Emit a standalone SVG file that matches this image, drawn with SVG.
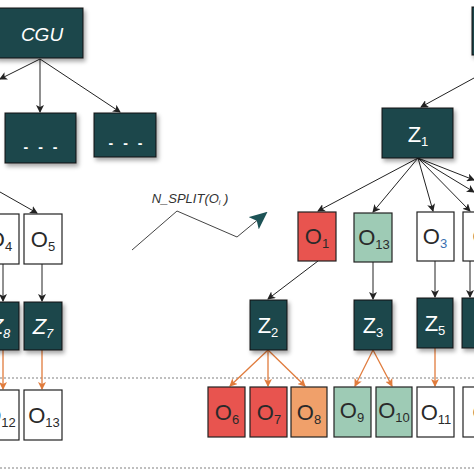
<svg xmlns="http://www.w3.org/2000/svg" width="474" height="474" viewBox="0 0 474 474">
<defs>
<filter id="sh" x="-30%" y="-30%" width="160%" height="160%"><feDropShadow dx="2" dy="3" stdDeviation="2" flood-color="#000" flood-opacity="0.35"/></filter>
<marker id="ab" markerWidth="8" markerHeight="8" refX="7" refY="4" orient="auto" markerUnits="userSpaceOnUse"><path d="M0,0 L8,4 L0,8 L2,4 z" fill="#222"/></marker>
<marker id="ao" markerWidth="8" markerHeight="8" refX="7" refY="4" orient="auto" markerUnits="userSpaceOnUse"><path d="M0,0 L8,4 L0,8 L2,4 z" fill="#e07b3c"/></marker>
<marker id="at" markerWidth="18" markerHeight="16" refX="16" refY="8" orient="auto" markerUnits="userSpaceOnUse"><path d="M0,0 L18,8 L0,16 L4,8 z" fill="#1d5356"/></marker>
</defs>
<style>
.dk{fill:#1c474b;stroke:#111;stroke-width:1;filter:url(#sh)}
.wo{fill:#fff;stroke:#222;stroke-width:1.2}
.rd{fill:#e8544f;stroke:#222;stroke-width:1.2}
.or{fill:#f0a06a;stroke:#222;stroke-width:1.2}
.gr{fill:#9ecbb5;stroke:#222;stroke-width:1.2}
.ot{font-family:"Liberation Sans",Arial,sans-serif;font-size:22px;fill:#2a2a2a;text-anchor:middle}
.zt{font-family:"Liberation Sans",Arial,sans-serif;font-size:22px;fill:#fff;text-anchor:middle}
.sb{font-size:13px}
.dd{font-family:"Liberation Sans",Arial,sans-serif;font-size:14px;font-weight:bold;fill:#fff;text-anchor:middle;letter-spacing:3px}
.ln{stroke:#222;stroke-width:1;fill:none;marker-end:url(#ab)}
.lo{stroke:#e07b3c;stroke-width:1.3;fill:none;marker-end:url(#ao)}
.dt{stroke:#aaa;stroke-width:1.5;stroke-dasharray:2 2;fill:none}
</style>
<g id="separators">
<line class="dt" x1="0" y1="378" x2="474" y2="378"/>
<line class="dt" x1="0" y1="468" x2="474" y2="468"/>
</g>
<g id="connectors">
<line class="ln" x1="40" y1="59" x2="0" y2="79"/>
<line class="ln" x1="40" y1="59" x2="40" y2="112"/>
<line class="ln" x1="40" y1="59" x2="120" y2="112"/>
<line class="ln" x1="0" y1="192" x2="37" y2="213"/>
<line class="ln" x1="3" y1="264" x2="3" y2="301"/>
<line class="ln" x1="42" y1="264" x2="42" y2="301"/>
<line class="lo" x1="3" y1="350" x2="3" y2="389"/>
<line class="lo" x1="42" y1="350" x2="42" y2="389"/>
<line class="ln" x1="474" y1="78" x2="421" y2="107"/>
<line class="ln" x1="418" y1="158" x2="318" y2="211"/>
<line class="ln" x1="418" y1="158" x2="373" y2="212"/>
<line class="ln" x1="418" y1="158" x2="433" y2="211"/>
<line class="ln" x1="418" y1="158" x2="470" y2="211"/>
<line class="ln" x1="418" y1="158" x2="474" y2="192"/>
<line class="ln" x1="418" y1="158" x2="474" y2="180"/>
<line class="ln" x1="318" y1="261" x2="268" y2="299"/>
<line class="ln" x1="373" y1="262" x2="373" y2="299"/>
<line class="ln" x1="435" y1="261" x2="435" y2="297"/>
<line class="ln" x1="470" y1="261" x2="470" y2="297"/>
<line class="lo" x1="268" y1="350" x2="230" y2="386"/>
<line class="lo" x1="268" y1="350" x2="268" y2="386"/>
<line class="lo" x1="268" y1="350" x2="305" y2="386"/>
<line class="lo" x1="373" y1="350" x2="355" y2="386"/>
<line class="lo" x1="373" y1="350" x2="392" y2="386"/>
<line class="lo" x1="435" y1="348" x2="435" y2="386"/>
<polyline points="132,250 177,211 237,237 266,213" fill="none" stroke="#444" stroke-width="1" marker-end="url(#at)"/>
</g>
<g id="label-nsplit"><text x="190" y="203" font-family="Liberation Sans,Arial,sans-serif" font-size="13" font-style="italic" fill="#333" text-anchor="middle">N_SPLIT(O<tspan font-size="7" dy="2">i</tspan><tspan dy="-2"> )</tspan></text></g>
<g id="cgu"><rect class="dk" x="-5" y="8" width="88" height="50"/><text x="42" y="41" font-family="Liberation Sans,Arial,sans-serif" font-size="19" font-style="italic" fill="#fff" text-anchor="middle">CGU</text></g>
<g id="dots1"><rect class="dk" x="5" y="113" width="71" height="50"/><text class="dd" x="42" y="152">- - -</text></g>
<g id="dots2"><rect class="dk" x="94" y="113" width="62" height="44"/><text class="dd" x="127" y="148">- - -</text></g>
<g id="topright"><rect class="dk" x="472" y="7" width="20" height="48"/></g>
<g id="z1"><rect class="dk" x="382" y="108" width="71" height="50"/><text class="zt" x="418" y="142" font-size="26">Z<tspan class="sb" font-size="15" dy="4">1</tspan></text></g>
<g id="o4"><rect class="wo" x="-18" y="214" width="37" height="50"/><text class="ot" x="0" y="247">O<tspan class="sb" dy="4">4</tspan></text></g>
<g id="o5"><rect class="wo" x="24" y="214" width="38" height="50"/><text class="ot" x="43" y="247">O<tspan class="sb" dy="4">5</tspan></text></g>
<g id="z8"><rect class="dk" x="-18" y="302" width="37" height="48"/><text class="zt" x="0" y="334" font-style="italic">Z<tspan class="sb" dy="4">8</tspan></text></g>
<g id="z7"><rect class="dk" x="24" y="302" width="38" height="48"/><text class="zt" x="43" y="334" font-style="italic">Z<tspan class="sb" dy="4">7</tspan></text></g>
<g id="o12"><rect class="wo" x="-18" y="390" width="37" height="50"/><text class="ot" x="0" y="423">O<tspan class="sb" dy="4">12</tspan></text></g>
<g id="o13l"><rect class="wo" x="24" y="390" width="38" height="50"/><text class="ot" x="44" y="423">O<tspan class="sb" dy="4">13</tspan></text></g>
<g id="o1"><rect class="rd" x="298" y="212" width="38" height="49"/><text class="ot" x="317" y="244">O<tspan class="sb" dy="4">1</tspan></text></g>
<g id="o13"><rect class="gr" x="354" y="213" width="38" height="49"/><text class="ot" x="374" y="245">O<tspan class="sb" dy="4">13</tspan></text></g>
<g id="o3"><rect class="wo" x="417" y="212" width="37" height="49"/><text class="ot" x="435" y="244">O<tspan class="sb" dy="4" fill="#3a6fb0">3</tspan></text></g>
<g id="o-edge"><rect class="wo" x="463" y="212" width="37" height="49"/><text class="ot" x="481" y="244" fill="#c98a5a">O</text></g>
<g id="z2"><rect class="dk" x="250" y="300" width="37" height="50"/><text class="zt" x="268" y="333">Z<tspan class="sb" dy="4">2</tspan></text></g>
<g id="z3"><rect class="dk" x="354" y="300" width="38" height="50"/><text class="zt" x="373" y="333">Z<tspan class="sb" dy="4">3</tspan></text></g>
<g id="z5"><rect class="dk" x="417" y="298" width="36" height="50"/><text class="zt" x="435" y="331">Z<tspan class="sb" dy="4">5</tspan></text></g>
<g id="z-edge"><rect class="dk" x="462" y="298" width="36" height="50"/></g>
<g id="o6"><rect class="rd" x="208" y="387" width="37" height="50"/><text class="ot" x="227" y="420">O<tspan class="sb" dy="4">6</tspan></text></g>
<g id="o7"><rect class="rd" x="250" y="387" width="37" height="50"/><text class="ot" x="269" y="420">O<tspan class="sb" dy="4">7</tspan></text></g>
<g id="o8"><rect class="or" x="291" y="387" width="36" height="50"/><text class="ot" x="309" y="420">O<tspan class="sb" dy="4">8</tspan></text></g>
<g id="o9"><rect class="gr" x="334" y="387" width="37" height="50"/><text class="ot" x="352" y="418">O<tspan class="sb" dy="4">9</tspan></text></g>
<g id="o10"><rect class="gr" x="376" y="387" width="36" height="50"/><text class="ot" x="394" y="418">O<tspan class="sb" dy="4">10</tspan></text></g>
<g id="o11"><rect class="wo" x="417" y="387" width="37" height="50"/><text class="ot" x="436" y="420">O<tspan class="sb" dy="4">11</tspan></text></g>
<g id="o-edge2"><rect class="wo" x="463" y="387" width="37" height="50"/><text class="ot" x="481" y="420" fill="#3a6fb0">O</text></g>
</svg>
